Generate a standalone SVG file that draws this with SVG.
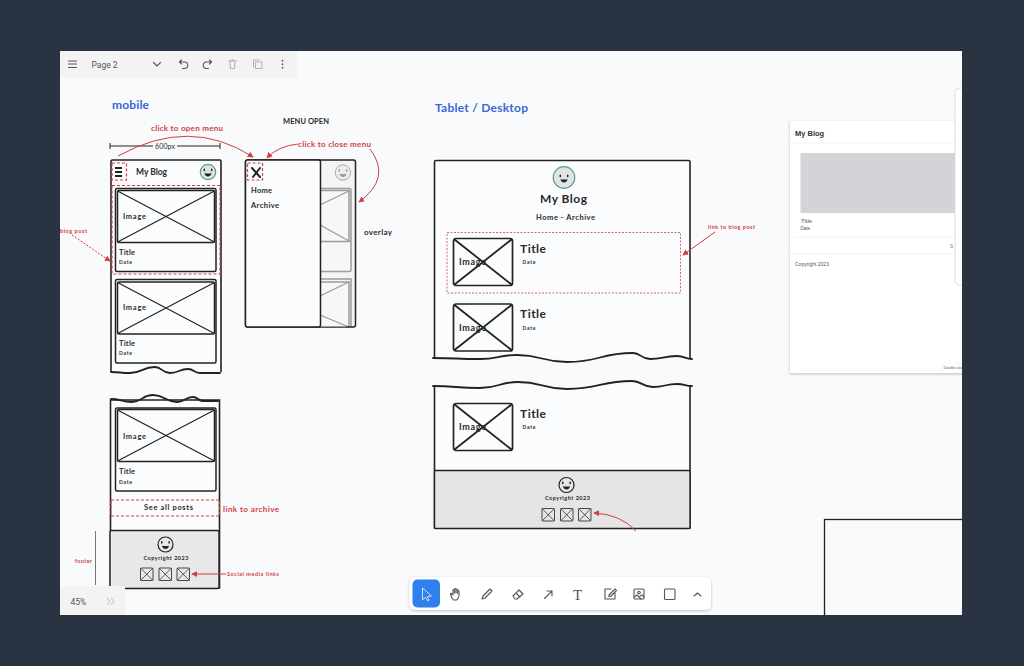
<svg xmlns="http://www.w3.org/2000/svg" width="1024" height="666" viewBox="0 0 1024 666">
<style>
text{font-family:"Lato","Noto Sans",sans-serif;fill:#2a2a2a;font-weight:700}
.b{font-family:"Lato",sans-serif;fill:#3a66d6;font-size:12px}
.r{fill:#cf3f45}
.ui{font-family:"Roboto",sans-serif;font-weight:400;fill:#555}
.pv{font-family:"Liberation Sans",sans-serif;font-weight:400;fill:#555}
.s{fill:none;stroke:#222;stroke-width:1.2;stroke-linejoin:round;stroke-linecap:round}
.t{fill:none;stroke:#222;stroke-width:1.8;stroke-linejoin:round;stroke-linecap:round}
.w{fill:#fbfcfd;stroke:#222;stroke-width:1.5}
.d{fill:none;stroke:#d0424a;stroke-width:1.2;stroke-dasharray:3 2}
.a{fill:none;stroke:#cf3f45;stroke-width:1}
.i{fill:none;stroke:#555;stroke-width:1.1;stroke-linecap:round;stroke-linejoin:round}
.g{opacity:.42}
</style>
<defs>
<marker id="ah" viewBox="0 0 8 8" refX="7" refY="4" markerWidth="6" markerHeight="6" orient="auto-start-reverse"><path d="M0 0L8 4L0 8Z" fill="#cf3f45"/></marker>
<filter id="sh" x="-10%" y="-30%" width="120%" height="170%"><feDropShadow dx="0" dy="1" stdDeviation="1.500" flood-color="#000" flood-opacity=".25"/></filter>
<g id="im"><rect x="0" y="0" width="97" height="52" rx="1.500" class="w"/><path class="s" d="M1 1L96 51M96 1L1 51"/></g>
<g id="imb"><rect x="0" y="0" width="59" height="47" rx="2.500" class="w" style="stroke-width:1.700"/><path class="t" d="M1 1L58 46M58 1L1 46"/></g>
<g id="sq"><rect x="0" y="0" width="12.500" height="12.500" rx="1" fill="none" stroke="#333" stroke-width=".9"/><path d="M0 0L12.500 12.500M12.500 0L0 12.500" stroke="#333" stroke-width=".8"/></g>
<g id="smile"><path d="M-3.700 -.6v-1.200M3.700 -.6v-1.200" stroke="#222" stroke-width="1.500" stroke-linecap="round"/><path d="M-3.600 2.200Q0 3 3.600 2.200Q2.500 5.400 0 5.400Q-2.500 5.400 -3.600 2.200Z" fill="#222"/></g>
</defs>
<rect width="1024" height="666" fill="#2a3342"/>
<rect x="60" y="51" width="902" height="564" fill="#f9fafc"/>

<g id="labels">
<text class="b" x="112" y="109" textLength="37">mobile</text>
<text class="b" x="435" y="112" textLength="93">Tablet / Desktop</text>
<text x="283" y="124" font-size="7.500" textLength="46">MENU OPEN</text>
<text x="364" y="235" font-size="8" textLength="28">overlay</text>
<text class="r" x="151" y="131" font-size="8" textLength="72">click to open menu</text>
<text class="r" x="298" y="147" font-size="8" textLength="73">click to close menu</text>
<text class="r" x="60" y="233" font-size="5.500" textLength="27">blog post</text>
<text class="r" x="223" y="512" font-size="8" textLength="56">link to archive</text>
<text class="r" x="75" y="563" font-size="5.500" textLength="17">footer</text>
<text class="r" x="227" y="576" font-size="5.500" textLength="52">Social media links</text>
<text class="r" x="708" y="229" font-size="5.500" textLength="47">link to blog post</text>
<text x="155" y="149" font-size="7" textLength="20" style="font-weight:400">600px</text>
</g>

<g id="phone-1">
<path class="w" style="stroke-width:1.600" d="M111 372V161.500Q111 160 112.500 160H220Q221 160 221 161.500V372"/>
<path class="t" d="M111 372C120 372 120 373 130 373C142 373 142 367 155 367C162 367 162 373 170 373C179 373 179 369 188 369C194 369 194 373 200 373C210 373 215 373 220 373"/>
<path d="M115 168h7M115 172h7M115 176h7" stroke="#222" stroke-width="1.800"/>
<text x="136" y="175" font-size="8.500" textLength="31">My Blog</text>
<circle cx="208" cy="172" r="7.700" fill="#dfe3e5" stroke="#5a9e86" stroke-width="1.200"/>
<use href="#smile" x="208" y="171"/>
<rect x="115.500" y="188.500" width="100.500" height="83" rx="1.500" class="w"/>
<use href="#im" x="117.500" y="190.500"/>
<text x="123" y="219" font-size="7.500" textLength="23">Image</text>
<text x="119" y="255" font-size="7.500" textLength="16">Title</text>
<text x="119" y="264" font-size="5" textLength="13">Date</text>
<rect x="115.500" y="279.500" width="100.500" height="83.500" rx="1.500" class="w"/>
<use href="#im" x="117.500" y="282"/>
<text x="123" y="310" font-size="7.500" textLength="23">Image</text>
<text x="119" y="346" font-size="7.500" textLength="16">Title</text>
<text x="119" y="355" font-size="5" textLength="13">Date</text>
<rect class="d" x="112" y="163" width="14.500" height="17"/>
<rect class="d" x="112" y="185.500" width="108" height="88.500"/>
</g>

<g id="phone-menu">
<rect x="245.500" y="160" width="110" height="167" rx="2" fill="#f3f4f5" stroke="#222" stroke-width="1.500"/>
<g class="g">
<circle cx="343" cy="172.500" r="7.700" fill="#dfe3e5" stroke="#444" stroke-width="1"/>
<use href="#smile" x="343" y="171.500"/>
<rect x="300" y="188.500" width="51" height="83" rx="1.500" class="w"/>
<rect x="300" y="190.500" width="49" height="51" class="w"/>
<path class="s" d="M320 205L349 191M320 225L349 241"/>
<path class="w" d="M300 327V279H351V327"/>
<path class="w" d="M300 327V282H349V327"/>
<path class="s" d="M320 296L349 282M320 315L349 327"/>
</g>
<rect x="245.500" y="160" width="75" height="167" rx="2" class="w"/>
<path d="M252 168L260 177M260 168L253 177" stroke="#222" stroke-width="2" stroke-linecap="round"/>
<rect class="d" x="247.500" y="163" width="15" height="17"/>
<text x="251" y="193" font-size="7.500" textLength="21">Home</text>
<text x="251" y="208" font-size="7.500" textLength="28">Archive</text>
</g>

<g id="phone-2">
<path class="w" style="stroke-width:1.600" d="M110.500 400H219.500V588H110.500Z"/>
<path class="t" d="M111 399C121 399 121 402 132 402C142 402 142 395 153 395C165 395 165 402 177 402C185 402 185 397 193 397C198 397 198 401 203 401C210 401 214 401 218 401"/>
<rect x="115.500" y="408" width="100.500" height="83" rx="1.500" class="w"/>
<use href="#im" x="117.500" y="409.500"/>
<text x="123" y="439" font-size="7.500" textLength="23">Image</text>
<text x="119" y="474" font-size="7.500" textLength="16">Title</text>
<text x="119" y="484" font-size="5" textLength="13">Date</text>
<rect class="d" x="111" y="500" width="108.500" height="16"/>
<text x="144" y="510" font-size="7.500" textLength="49">See all posts</text>
<rect x="110" y="530.500" width="109" height="58" rx="1.500" fill="#e8e8e8" stroke="#222" stroke-width="1.400"/>
<circle cx="165.500" cy="544.500" r="7.500" fill="none" stroke="#222" stroke-width="1.200"/>
<use href="#smile" x="165.500" y="543.500"/>
<text x="143.500" y="560" font-size="5.500" textLength="45">Copyright 2023</text>
<use href="#sq" x="140.500" y="568"/>
<use href="#sq" x="159" y="568"/>
<use href="#sq" x="177" y="568"/>
</g>

<g id="desktop-1">
<path class="w" style="stroke-width:1.600" d="M434.500 358V162Q434.500 160.500 436 160.500H688.500Q690 160.500 690 162V358"/>
<path class="t" d="M433 358C456 358 456 359 480 359C498 359 498 355 517 355C542 355 542 362 567 362C600 362 600 353 633 353C641 353 641 359 650 359C663 359 663 356 677 356C685 356 685 359 692 359"/>
<circle cx="564" cy="177.500" r="10.800" fill="#dfe3e5" stroke="#5a9e86" stroke-width="1.200"/>
<use href="#smile" x="564" y="177"/>
<text x="540" y="203" font-size="12" textLength="47">My Blog</text>
<text x="536" y="220" font-size="7.500" textLength="59">Home - Archive</text>
<use href="#imb" x="453.500" y="238.500"/>
<text x="459" y="265" font-size="9" textLength="27">Image</text>
<text x="520" y="252.500" font-size="12" textLength="26">Title</text>
<text x="522.500" y="264" font-size="5" textLength="13">Date</text>
<use href="#imb" x="453.500" y="304"/>
<text x="459" y="330.500" font-size="9" textLength="27">Image</text>
<text x="520" y="318" font-size="12" textLength="26">Title</text>
<text x="522.500" y="329.500" font-size="5" textLength="13">Date</text>
<rect x="447" y="232.500" width="233.500" height="60.500" fill="none" stroke="#d0424a" stroke-width=".8" stroke-dasharray="2 1.500"/>
</g>

<g id="desktop-2">
<path class="w" style="stroke-width:1.600" d="M434.500 386V528H690V386"/>
<path class="t" d="M433 386C456 386 456 388 480 388C499 388 499 382 518 382C542 382 542 389 567 389C600 389 600 381 632 381C642 381 642 387 653 387C665 387 665 384 677 384C685 384 685 386 692 386"/>
<use href="#imb" x="453.500" y="403.500"/>
<text x="459" y="430" font-size="9" textLength="27">Image</text>
<text x="520" y="417.500" font-size="12" textLength="26">Title</text>
<text x="522.500" y="429" font-size="5" textLength="13">Date</text>
<rect x="434.500" y="470.500" width="255.500" height="58" rx="1" fill="#e5e5e5" stroke="#222" stroke-width="1.400"/>
<circle cx="566.500" cy="485" r="7.500" fill="none" stroke="#222" stroke-width="1.200"/>
<use href="#smile" x="566.500" y="484"/>
<text x="545" y="500" font-size="5.500" textLength="45">Copyright 2023</text>
<use href="#sq" x="542" y="508.500"/>
<use href="#sq" x="560.500" y="508.500"/>
<use href="#sq" x="578.500" y="508.500"/>
</g>

<g id="connectors">
<path d="M110 146H153M177 146H220" stroke="#222" stroke-width="1"/>
<path d="M110 143v6M220 143v6" stroke="#222" stroke-width="1"/>
<path class="a" marker-end="url(#ah)" d="M118 156Q190 116 253 157"/>
<path class="a" marker-end="url(#ah)" d="M298 144Q278 146 267 158"/>
<path class="a" marker-end="url(#ah)" d="M370 149Q392 178 359 202"/>
<path class="a" stroke-dasharray="2 1.500" marker-end="url(#ah)" d="M72 235L110 261"/>
<path class="a" marker-end="url(#ah)" d="M226 574H192"/>
<path class="a" marker-end="url(#ah)" d="M715 232L683 255"/>
<path class="a" stroke-width=".8" marker-end="url(#ah)" d="M636 531Q620 514 594 513"/>
<path d="M95.500 531V585" stroke="#777" stroke-width="1"/>
</g>

<g id="preview">
<rect x="790" y="121" width="180" height="252" fill="#fff" filter="url(#sh)"/>
<path d="M790 143H958M795 237H958M790 254H958" stroke="#f1f2f3" stroke-width="1"/>
<text class="pv" x="795" y="135.500" font-size="7.500" style="font-weight:700;fill:#333">My Blog</text>
<rect x="800.500" y="153" width="157" height="60" fill="#d3d4d8"/>
<text class="pv" x="801" y="222.500" font-size="6">Title</text>
<text class="pv" x="800.500" y="230" font-size="4.500">Date</text>
<text class="pv" x="950" y="247.500" font-size="4.500" style="fill:#4a78c8">S</text>
<text class="pv" x="795" y="266" font-size="5">Copyright 2023</text>
<rect x="941" y="363" width="30" height="8" fill="#fff" stroke="#f0f0f0" stroke-width=".5"/>
<text class="pv" x="943.500" y="368.500" font-size="3.800">Double click</text>
<rect x="955" y="88" width="14" height="197" rx="5" fill="#fff" stroke="#ddd" stroke-width="1"/>
<rect x="824.500" y="519.500" width="142" height="100" fill="none" stroke="#222" stroke-width="1.300"/>
</g>

<rect x="962" y="0" width="62" height="666" fill="#2a3342"/>
<rect x="0" y="615" width="1024" height="51" fill="#2a3342"/>

<g id="top-toolbar">
<rect x="60" y="51" width="237" height="27" fill="#f3f3f4"/>
<path class="i" d="M68.500 61h8M68.500 64h8M68.500 67.500h8"/>
<text class="ui" x="91.500" y="67.500" font-size="8.500">Page 2</text>
<path class="i" d="M153.500 62.500l3.500 3.500l3.500-3.500"/>
<path class="i" d="M179.500 62h5a3 3 0 0 1 0 6.500h-2M181.500 60l-2 2l2 2"/>
<path class="i" d="M211.500 62h-5a3 3 0 0 0 0 6.500h2M209.500 60l2 2l-2 2"/>
<path class="i" style="opacity:.4" d="M228.500 61h8M230 61l.5 7.500h4l.5-7.500M231.500 61v-1h2v1"/>
<path class="i" style="opacity:.4" d="M253.500 67v-7h6M255.500 62h6.500v6.500h-6.500z"/>
<path d="M282.500 60.500v.5M282.500 64v.5M282.500 67.500v.5" stroke="#555" stroke-width="1.600" stroke-linecap="round"/>
</g>
<g id="zoom-box">
<rect x="60" y="586" width="65" height="29" fill="#f3f3f4"/>
<text class="ui" x="70.500" y="604.500" font-size="8.500">45%</text>
<path d="M107 598l3 3.500l-3 3.500M111 598l3 3.500l-3 3.500" fill="none" stroke="#bbb" stroke-width="1"/>
</g>
<g id="bottom-toolbar">
<rect x="409.500" y="577" width="301.500" height="33" rx="6" fill="#fff" filter="url(#sh)"/>
<rect x="412.500" y="579.500" width="27.500" height="28" rx="5" fill="#2f7fec"/>
<path d="M422.500 588L422.500 600L425.500 597L427.500 601L429 600L427.500 596.500L431.500 596Z" fill="none" stroke="#cfe0fa" stroke-width="1"/>
<path class="i" d="M452 598l-1.500-4q0-1.500 1.500 0l1 1v-5q1-1 1.500 0v3v-4q1-1 1.500 0v4v-3.500q1-1 1.500 0v4v-2.500q1-1 1.500 0v5q-.5 3-2.500 4h-3z"/>
<path class="i" d="M482 599l1-3l7-7l2 2l-7 7z"/>
<path class="i" d="M513 596l6-6l4 4l-6 5h-2zM516 593l4 4"/>
<path class="i" d="M544.500 598.500l7.500-7.500M547 591h5v5"/>
<text x="573" y="600" font-size="15" style="font-family:'Liberation Serif',serif;font-weight:400;fill:#555">T</text>
<path class="i" d="M611 589h-6v10h10v-6M609 595l6-6l1.500 1.500l-6 6h-1.500z"/>
<rect class="i" x="634" y="589" width="10" height="10" rx="1"/>
<circle cx="639" cy="592.500" r="1.300" class="i"/><path class="i" d="M634 597l3-2l4 4M640 596l2-1l2 2"/>
<rect class="i" x="664.500" y="589" width="10.500" height="10.500" rx="1"/>
<path class="i" d="M694 596l3.500-3l3.500 3"/>
</g>
</svg>
